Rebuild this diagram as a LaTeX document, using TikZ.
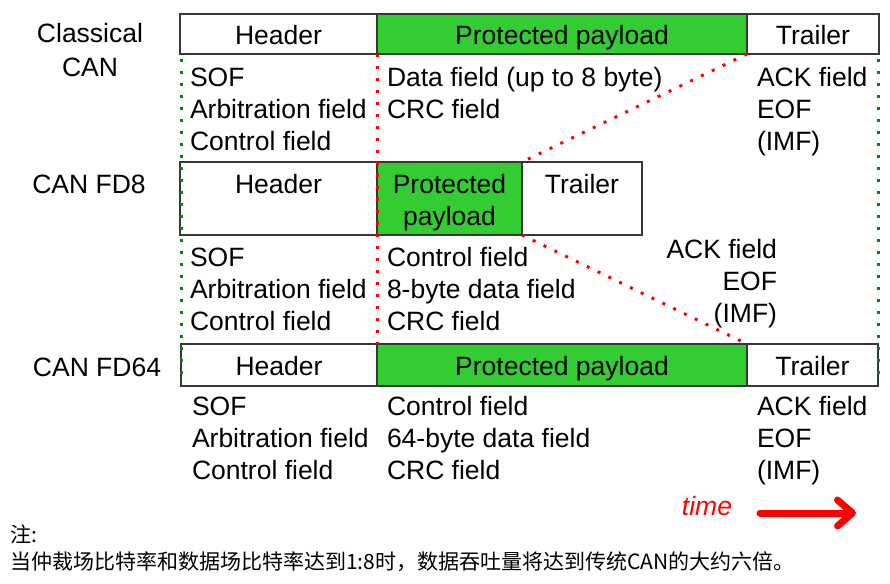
\documentclass[tikz,border=0pt]{standalone}
\usepackage{fontspec}
\setmainfont{Liberation Sans}
\newfontfamily\cjk{Noto Sans CJK SC}
\usetikzlibrary{arrows.meta}
\definecolor{pgreen}{RGB}{51,204,51}
\definecolor{dgreen}{RGB}{0,140,0}
\definecolor{edge}{RGB}{55,55,55}
\begin{document}
\begin{tikzpicture}[x=1pt,y=-1pt,
  every node/.style={font=\fontsize{26.5}{32}\selectfont, inner sep=0pt, outer sep=0pt},
  fld/.style={draw=edge, line width=1.4pt, anchor=north west, fill=white},
  pay/.style={fld, fill=pgreen},
  txt/.style={anchor=base},
  lst/.style={anchor=base west},
  rlst/.style={anchor=base east},
  rdot/.style={red, line width=3pt, dash pattern=on 3pt off 9pt},
  gdot/.style={dgreen, line width=3pt, dash pattern=on 3pt off 9pt},
  note/.style={anchor=base west, font=\cjk\fontsize{21}{24}\selectfont}]
\useasboundingbox (0,0) rectangle (890,583);

% ---- frame boxes
\node[fld, minimum width=197pt, minimum height=40pt] (h1) at (180,14) {};
\node[pay, minimum width=370pt, minimum height=40pt] (p1) at (377,14) {};
\node[fld, minimum width=132pt, minimum height=40pt] (t1) at (747,14) {};

\node[fld, minimum width=197pt, minimum height=73pt] (h2) at (180,162) {};
\node[pay, minimum width=145pt, minimum height=73pt] (p2) at (377,162) {};
\node[fld, minimum width=120pt, minimum height=73pt] (t2) at (522,162) {};

\node[fld, minimum width=196pt, minimum height=42pt] (h3) at (181,344) {};
\node[pay, minimum width=370pt, minimum height=42pt] (p3) at (377,344) {};
\node[fld, minimum width=131pt, minimum height=42pt] (t3) at (747,344) {};

% ---- red dotted guides
\draw[rdot] (p1.south west) -- (p3.north west);
\draw[rdot] (p1.south east) -- (p2.north east);
\draw[rdot] (p2.south east) -- (p3.north east);

% ---- green dotted guides
\coordinate (gl1) at (181,59);
\coordinate (gl2) at (181,374);
\coordinate (gr1) at (878,59);
\coordinate (gr2) at (878,374);
\draw[gdot] (gl1) -- (gl2);
\draw[gdot] (gr1) -- (gr2);

% ---- box labels
\node[txt] (h1l) at (278.5,45) {Header};
\node[txt] (p1l) at (562,45) {Protected payload};
\node[txt] (t1l) at (813,45) {Trailer};

\node[txt] (h2l) at (278.5,193) {Header};
\node[txt] (p2l) at (449.5,193) {Protected};
\node[txt] (p2m) at (449.5,225) {payload};
\node[txt] (t2l) at (582,193) {Trailer};

\node[txt] (h3l) at (279,375) {Header};
\node[txt] (p3l) at (562,375) {Protected payload};
\node[txt] (t3l) at (812.5,375) {Trailer};

% ---- row titles
\node[txt] (c1a) at (90,43) {Classical};
\node[txt] (c1b) at (90,77) {CAN};
\node[txt] (c2) at (89,193) {CAN FD8};
\node[txt] (c3) at (97,376) {CAN FD64};

% ---- row 1 lists
\node[lst] (a1) at (190,87) {SOF};
\node[lst] (a2) at (190,118.5) {Arbitration field};
\node[lst] (a3) at (190,150) {Control field};
\node[lst] (b1) at (387,87) {Data field (up to 8 byte)};
\node[lst] (b2) at (387,118.5) {CRC field};
\node[lst] (d1) at (757,87) {ACK field};
\node[lst] (d2) at (757,118.5) {EOF};
\node[lst] (d3) at (757,150) {(IMF)};

% ---- row 2 lists
\node[lst] (e1) at (190,266) {SOF};
\node[lst] (e2) at (190,298) {Arbitration field};
\node[lst] (e3) at (190,330) {Control field};
\node[lst] (f1) at (387,266) {Control field};
\node[lst] (f2) at (387,298) {8-byte data field};
\node[lst] (f3) at (387,330) {CRC field};
\node[rlst] (g1) at (777,258) {ACK field};
\node[rlst] (g2) at (777,290) {EOF};
\node[rlst] (g3) at (777,322) {(IMF)};

% ---- row 3 lists
\node[lst] (k1) at (192,415) {SOF};
\node[lst] (k2) at (192,447) {Arbitration field};
\node[lst] (k3) at (192,479) {Control field};
\node[lst] (m1) at (387,415) {Control field};
\node[lst] (m2) at (387,447) {64-byte data field};
\node[lst] (m3) at (387,479) {CRC field};
\node[lst] (n1) at (757,415) {ACK field};
\node[lst] (n2) at (757,447) {EOF};
\node[lst] (n3) at (757,479) {(IMF)};

% ---- time arrow
\node[txt, text=red, font=\fontsize{26.5}{32}\selectfont\itshape] (time) at (707,515) {time};
\coordinate (ta1) at (760,513);
\coordinate (ta2) at (856,513);
\draw[red, line width=7pt, line cap=round, -{Straight Barb[length=15pt,width=26pt,round]}] (ta1) -- (ta2);

% ---- note
\node[note] (n0) at (10,542) {注:};
\node[note] (nt) at (10,569) {当仲裁场比特率和数据场比特率达到1:8时，数据吞吐量将达到传统CAN的大约六倍。};
\end{tikzpicture}
\end{document}
